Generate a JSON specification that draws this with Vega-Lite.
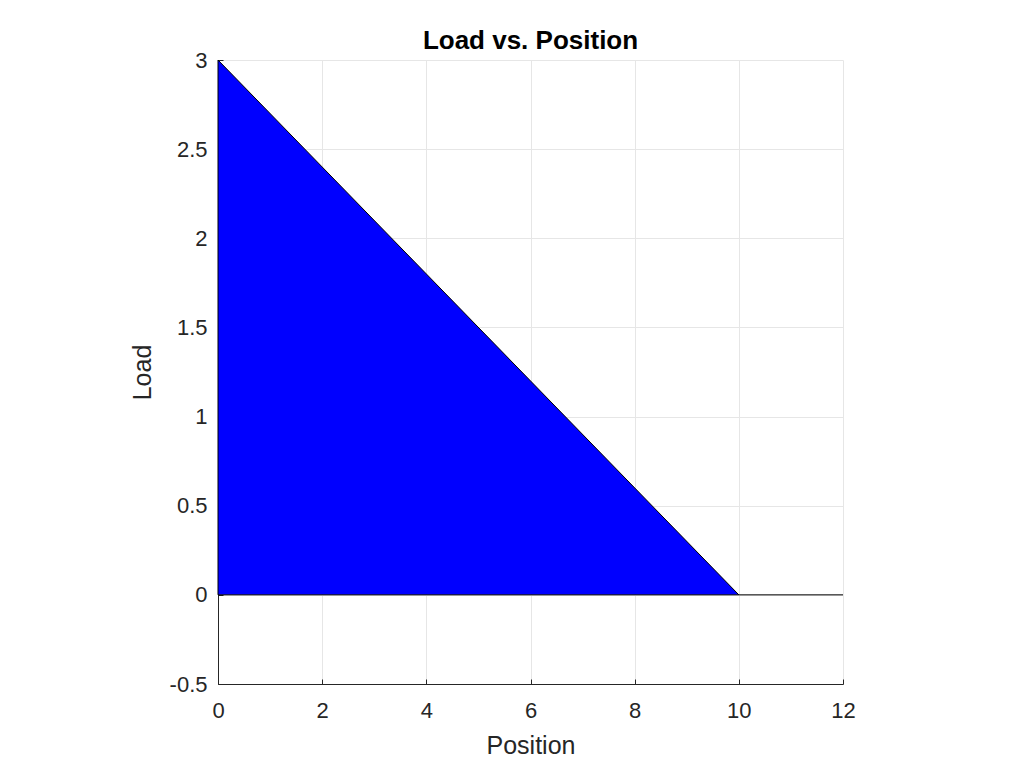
{
  "$schema": "https://vega.github.io/schema/vega-lite/v6.json",
  "autosize": "none",
  "padding": {"left": 218, "top": 60, "right": 181, "bottom": 84},
  "width": 625,
  "height": 624,
  "background": "white",
  "title": {
    "text": "Load vs. Position",
    "font": "Liberation Sans",
    "fontSize": 26,
    "fontWeight": "bold",
    "color": "black",
    "anchor": "middle",
    "offset": -5
  },
  "config": {
    "view": {"stroke": null},
    "axis": {
      "labelFont": "Liberation Sans",
      "labelFontSize": 22,
      "labelColor": "#262626",
      "titleFont": "Liberation Sans",
      "titleFontSize": 25,
      "titleFontWeight": "normal",
      "titleColor": "#262626",
      "domainColor": "#262626",
      "tickColor": "#262626",
      "gridColor": "#e6e6e6",
      "gridOpacity": 1,
      "tickSize": -5,
      "labelFlush": false,
      "labelOverlap": false,
      "labelExpr": "'' + datum.value"
    }
  },
  "datasets": {
    "load": [
      {"position": 0, "load": 3},
      {"position": 10, "load": 0}
    ],
    "outline": [
      {"step": 1, "position": 12, "load": 0},
      {"step": 2, "position": 0, "load": 0},
      {"step": 3, "position": 0, "load": 3},
      {"step": 4, "position": 10, "load": 0}
    ]
  },
  "layer": [
    {
      "data": {"name": "load"},
      "mark": {"type": "area", "color": "#0000ff", "opacity": 1},
      "encoding": {
        "x": {
          "field": "position",
          "type": "quantitative",
          "scale": {"domain": [0, 12], "nice": false},
          "axis": {"values": [0, 2, 4, 6, 8, 10, 12], "title": "Position", "labelPadding": 21, "titlePadding": 12}
        },
        "y": {
          "field": "load",
          "type": "quantitative",
          "scale": {"domain": [-0.5, 3], "nice": false, "zero": false},
          "axis": {"values": [-0.5, 0, 0.5, 1, 1.5, 2, 2.5, 3], "title": "Load", "labelPadding": 16, "titlePadding": 14}
        },
        "y2": {"datum": 0}
      }
    },
    {
      "data": {"name": "outline"},
      "mark": {"type": "line", "color": "black", "strokeWidth": 1},
      "encoding": {
        "x": {"field": "position", "type": "quantitative"},
        "y": {"field": "load", "type": "quantitative"},
        "order": {"field": "step"}
      }
    }
  ]
}
